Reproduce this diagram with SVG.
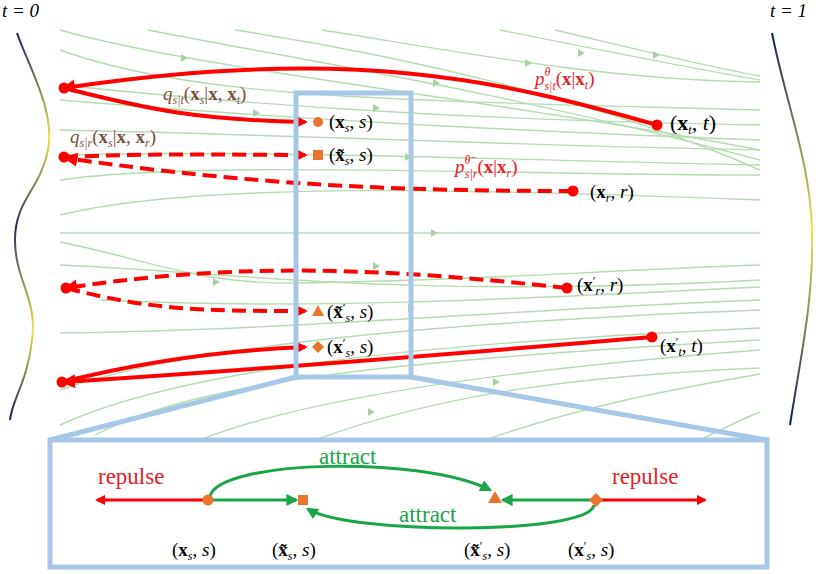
<svg xmlns="http://www.w3.org/2000/svg" width="818" height="574" viewBox="0 0 818 574">
<style>
text{font-family:"Liberation Serif","DejaVu Serif",serif;font-size:19px}
.it{font-style:italic}
.b{font-weight:bold;font-style:normal}
.sub{font-size:12px;font-style:italic}
.pr{font-size:12px}
.big{font-size:22px}
.sl{fill:none;stroke:#b4dbb0;stroke-width:1.4}
.rs{fill:none;stroke:#f00;stroke-width:4}
.rd{fill:none;stroke:#f00;stroke-width:4;stroke-dasharray:14 7}
.blue{fill:none;stroke:#a7c7e7;stroke-width:5}
.gr{fill:none;stroke:#1aa548;stroke-width:3}
.or{fill:#e8742e}
</style>
<defs>
<linearGradient id="gl" x1="0" y1="33" x2="0" y2="420" gradientUnits="userSpaceOnUse">
<stop offset="0" stop-color="#0b1f5c"/><stop offset="0.27" stop-color="#f3e24a"/><stop offset="0.5" stop-color="#1f2f60"/><stop offset="0.77" stop-color="#f3e24a"/><stop offset="1" stop-color="#0b1f5c"/>
</linearGradient>
<linearGradient id="gr" x1="0" y1="33" x2="0" y2="425" gradientUnits="userSpaceOnUse">
<stop offset="0" stop-color="#0b1f5c"/><stop offset="0.5" stop-color="#f3e24a"/><stop offset="1" stop-color="#0b1f5c"/>
</linearGradient>
<marker id="ar" viewBox="0 0 10 10" refX="8" refY="5" markerWidth="3.5" markerHeight="3.5" orient="auto-start-reverse" markerUnits="strokeWidth"><path d="M0,0L10,5L0,10z" fill="#f00"/></marker>
<marker id="ag" viewBox="0 0 10 10" refX="8" refY="5" markerWidth="4" markerHeight="4" orient="auto-start-reverse" markerUnits="strokeWidth"><path d="M0,0L10,5L0,10z" fill="#1aa548"/></marker>
</defs>
<text x="2" y="17" class="it">t = 0</text>
<text x="770" y="17" class="it">t = 1</text>
<path d="M17,33 C30,70 55,110 48,150 C40,190 15,200 15,240 C15,280 38,300 32,340 C28,380 12,400 10,420" fill="none" stroke="url(#gl)" stroke-width="2"/>
<path d="M772,33 C785,100 810,160 812,230 C814,300 800,360 790,425" fill="none" stroke="url(#gr)" stroke-width="2"/>
<g id="streamlines">
<path class="sl" d="M60,30 C200,70 500,100 760,150"/>
<path class="sl" d="M148,30 C300,60 500,90 760,160"/>
<path class="sl" d="M235,30 C400,55 600,100 760,170"/>
<path class="sl" d="M322,30 C450,50 600,80 760,82"/>
<path class="sl" d="M500,30 C600,50 700,70 760,80"/>
<path class="sl" d="M555,30 C640,50 700,65 760,76"/>
<path class="sl" d="M60,50 C200,100 400,100 760,110"/>
<path class="sl" d="M60,85 C300,110 500,120 760,125"/>
<path class="sl" d="M60,100 C300,120 500,130 760,140"/>
<path class="sl" d="M60,130 C300,135 500,145 760,150"/>
<path class="sl" d="M60,155 C300,150 500,160 760,165"/>
<path class="sl" d="M60,180 C200,160 500,175 760,175"/>
<path class="sl" d="M60,215 C200,180 500,190 760,200"/>
<path class="sl" d="M60,233 L760,233"/>
<path class="sl" d="M60,242 C150,260 200,285 300,283 C500,280 600,270 760,265"/>
<path class="sl" d="M60,265 C200,270 400,300 760,280"/>
<path class="sl" d="M100,300 C300,310 500,300 760,287"/>
<path class="sl" d="M60,333 C300,330 500,310 760,300"/>
<path class="sl" d="M60,390 C200,340 500,320 760,310"/>
<path class="sl" d="M60,425 C200,360 500,340 760,328"/>
<path class="sl" d="M95,435 C200,380 400,360 760,340"/>
<path class="sl" d="M200,440 C300,400 500,370 760,350"/>
<path class="sl" d="M315,440 C450,390 600,375 760,368"/>
<path class="sl" d="M485,440 C600,400 700,385 760,374"/>
<path class="sl" d="M700,440 C720,430 740,420 760,412"/>
<g fill="#a6d3a0">
<path d="M188,58l-7,-4l0,8z"/><path d="M380,108l-7,-4l0,8z"/><path d="M440,83l-7,-4l0,8z"/><path d="M585,53l-7,-4l0,8z"/><path d="M660,55l-7,-4l0,8z"/><path d="M532,63l-7,-4l0,8z"/><path d="M438,233l-7,-4l0,8z"/><path d="M220,282l-7,-4l0,8z"/><path d="M412,157l-7,-4l0,8z"/><path d="M260,113l-7,-4l0,8z"/><path d="M415,308l-7,-4l0,8z"/><path d="M380,266l-7,-4l0,8z"/><path d="M500,382l-7,-4l0,8z"/><path d="M375,412l-7,-4l0,8z"/>
</g>
</g>
<g id="connectors">
<path class="rs" d="M657,125 C500,80 350,45 64,88" marker-end="url(#ar)"/>
<path class="rs" d="M64,88 C150,110 200,120 305,122" marker-end="url(#ar)"/>
<path class="rd" d="M64,157 C150,153 250,155 305,155" marker-end="url(#ar)"/>
<path class="rd" d="M573,191 C400,191 250,185 66,158" marker-end="url(#ar)"/>
<path class="rd" d="M567,288 C400,270 250,260 66,288" marker-end="url(#ar)"/>
<path class="rd" d="M66,288 C150,310 200,311 305,311" marker-end="url(#ar)"/>
<path class="rs" d="M62,382 C150,360 230,350 305,347" marker-end="url(#ar)"/>
<path class="rs" d="M652,337 C500,350 250,370 64,382" marker-end="url(#ar)"/>
<path class="blue" d="M296,93H411V377H296Z M296,377L50,440 M411,377L767,440"/>
<rect class="blue" x="50" y="440" width="717" height="127"/>
</g>
<g id="points" fill="#f00">
<circle cx="64" cy="88" r="5.5"/><circle cx="657" cy="125" r="5.5"/>
<circle cx="64" cy="157" r="5.5"/><circle cx="573" cy="191" r="5.5"/>
<circle cx="66" cy="288" r="5.5"/><circle cx="567" cy="288" r="5.5"/>
<circle cx="62" cy="382" r="5.5"/><circle cx="652" cy="337" r="5.5"/>
<circle class="or" cx="318" cy="122" r="5"/>
<rect class="or" x="313" y="150" width="10" height="10"/>
<path class="or" d="M318,305L324,316H312Z"/>
<path class="or" d="M318,341L324,347L318,353L312,347Z"/>
</g>
<g id="labels">
<text x="163" y="100" fill="#7a4f3c" class="it">q<tspan class="sub" dy="4">s|t</tspan><tspan dy="-4" font-style="normal">(</tspan><tspan class="b">x</tspan><tspan class="sub" dy="4">s</tspan><tspan dy="-4" font-style="normal">|</tspan><tspan class="b">x</tspan><tspan font-style="normal">, </tspan><tspan class="b">x</tspan><tspan class="sub" dy="4">t</tspan><tspan dy="-4" font-style="normal">)</tspan></text>
<text x="70" y="143" fill="#7a4f3c" class="it">q<tspan class="sub" dy="4">s|r</tspan><tspan dy="-4" font-style="normal">(</tspan><tspan class="b">x</tspan><tspan class="sub" dy="4">s</tspan><tspan dy="-4" font-style="normal">|</tspan><tspan class="b">x</tspan><tspan font-style="normal">, </tspan><tspan class="b">x</tspan><tspan class="sub" dy="4">r</tspan><tspan dy="-4" font-style="normal">)</tspan></text>
<text x="535" y="85" fill="#e8201e" class="it">p<tspan class="sub" dy="-9">θ</tspan><tspan class="sub" dx="-6" dy="14">s|t</tspan><tspan dy="-5" font-style="normal">(</tspan><tspan class="b">x</tspan><tspan font-style="normal">|</tspan><tspan class="b">x</tspan><tspan class="sub" dy="4">t</tspan><tspan dy="-4" font-style="normal">)</tspan></text>
<text x="455" y="173" fill="#e8201e" class="it">p<tspan class="sub" dy="-9">θ⁻</tspan><tspan class="sub" dx="-12" dy="14">s|r</tspan><tspan dy="-5" font-style="normal">(</tspan><tspan class="b">x</tspan><tspan font-style="normal">|</tspan><tspan class="b">x</tspan><tspan class="sub" dy="4">r</tspan><tspan dy="-4" font-style="normal">)</tspan></text>
<text x="670" y="130" class="big">(<tspan class="b">x</tspan><tspan class="sub" dy="4">t</tspan><tspan dy="-4">, </tspan><tspan class="it">t</tspan>)</text>
<text x="590" y="198">(<tspan class="b">x</tspan><tspan class="sub" dy="4">r</tspan><tspan dy="-4">, </tspan><tspan class="it">r</tspan>)</text>
<text x="577" y="291">(<tspan class="b">x</tspan><tspan class="pr" dy="-6">′</tspan><tspan class="sub" dy="10">r</tspan><tspan dy="-4">, </tspan><tspan class="it">r</tspan>)</text>
<text x="660" y="352">(<tspan class="b">x</tspan><tspan class="pr" dy="-6">′</tspan><tspan class="sub" dy="10">t</tspan><tspan dy="-4">, </tspan><tspan class="it">t</tspan>)</text>
<text x="329" y="128">(<tspan class="b">x</tspan><tspan class="sub" dy="4">s</tspan><tspan dy="-4">, </tspan><tspan class="it">s</tspan>)</text>
<text x="329" y="161">(<tspan class="b">x̃</tspan><tspan class="sub" dy="4">s</tspan><tspan dy="-4">, </tspan><tspan class="it">s</tspan>)</text>
<text x="327" y="318">(<tspan class="b">x̃</tspan><tspan class="pr" dy="-6">′</tspan><tspan class="sub" dy="10">s</tspan><tspan dy="-4">, </tspan><tspan class="it">s</tspan>)</text>
<text x="327" y="353">(<tspan class="b">x</tspan><tspan class="pr" dy="-6">′</tspan><tspan class="sub" dy="10">s</tspan><tspan dy="-4">, </tspan><tspan class="it">s</tspan>)</text>
</g>
<g id="zoom-panel">
<path d="M206,500H97" stroke="#f00" stroke-width="3" marker-end="url(#ar)"/>
<path d="M598,500H705" stroke="#f00" stroke-width="3" marker-end="url(#ar)"/>
<path class="gr" d="M212,500H296" marker-end="url(#ag)"/>
<path class="gr" d="M592,500H503" marker-end="url(#ag)"/>
<path class="gr" d="M210,496 C220,460 420,455 490,490" marker-end="url(#ag)"/>
<path class="gr" d="M594,505 C590,535 350,535 308,509" marker-end="url(#ag)"/>
<circle class="or" cx="208" cy="500" r="5.5"/>
<rect class="or" x="298" y="495" width="10" height="10"/>
<path class="or" d="M495,491L502,503H488Z"/>
<path class="or" d="M596,493L603,500L596,507L589,500Z"/>
<text x="98" y="484" fill="#e8201e" style="font-size:23px">repulse</text>
<text x="612" y="484" fill="#e8201e" style="font-size:23px">repulse</text>
<text x="319" y="464" fill="#1aa548" style="font-size:23px">attract</text>
<text x="399" y="522" fill="#1aa548" style="font-size:23px">attract</text>
<text x="172" y="556">(<tspan class="b">x</tspan><tspan class="sub" dy="4">s</tspan><tspan dy="-4">, </tspan><tspan class="it">s</tspan>)</text>
<text x="272" y="556">(<tspan class="b">x̃</tspan><tspan class="sub" dy="4">s</tspan><tspan dy="-4">, </tspan><tspan class="it">s</tspan>)</text>
<text x="464" y="556">(<tspan class="b">x̃</tspan><tspan class="pr" dy="-6">′</tspan><tspan class="sub" dy="10">s</tspan><tspan dy="-4">, </tspan><tspan class="it">s</tspan>)</text>
<text x="568" y="556">(<tspan class="b">x</tspan><tspan class="pr" dy="-6">′</tspan><tspan class="sub" dy="10">s</tspan><tspan dy="-4">, </tspan><tspan class="it">s</tspan>)</text>
</g>
</svg>
